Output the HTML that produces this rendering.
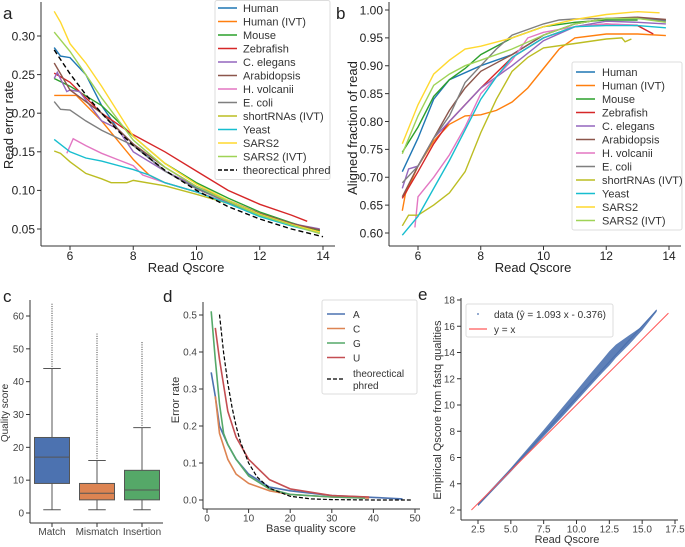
<!DOCTYPE html>
<html><head><meta charset="utf-8"><style>
html,body{margin:0;padding:0;background:#fff;}
svg{display:block;font-family:"Liberation Sans","DejaVu Sans",sans-serif;}
</style></head><body>
<svg id="fig" width="685" height="547" viewBox="0 0 685 547" xmlns="http://www.w3.org/2000/svg">
<g id="root"></g>
</svg>
<script>
// ---------- Panel a data ----------
const aNames = ["Human","Human (IVT)","Mouse","Zebrafish","C. elegans","Arabidopsis","H. volcanii","E. coli","shortRNAs (IVT)","Yeast","SARS2","SARS2 (IVT)"];
const aColors = ["#1f77b4","#ff7f0e","#2ca02c","#d62728","#9467bd","#8c564b","#e377c2","#7f7f7f","#bcbd22","#17becf","#ffd92f","#9fd356"];
const aHumanX=[5.5,5.7,6,6.5,7,7.5,8,9,10,11,12,13,13.9];
const aHumanY=[0.285,0.274,0.272,0.25,0.21,0.18,0.16,0.125,0.103,0.085,0.068,0.056,0.048];
const aHumanIVTX=[5.5,6,6.2,7,8,8.5,9,10,11,12,13,13.9];
const aHumanIVTY=[0.223,0.223,0.223,0.19,0.14,0.12,0.11,0.098,0.084,0.068,0.056,0.047];
const aMouseX=[5.5,6,7,8,9,10,11,12,13,13.9];
const aMouseY=[0.245,0.235,0.21,0.17,0.135,0.11,0.09,0.072,0.058,0.047];
const aZebraX=[5.5,6,7,8,9,10,11,12,13,13.5];
const aZebraY=[0.252,0.24,0.2,0.172,0.15,0.125,0.1,0.082,0.068,0.06];
const aElegX=[5.5,5.6,5.9,6,6.3,7,7.5,8,9,10,11,12,13,13.9];
const aElegY=[0.245,0.253,0.228,0.23,0.228,0.19,0.18,0.15,0.125,0.105,0.087,0.07,0.057,0.05];
const aArabX=[5.5,6,7,8,9,10,11,12,13,13.9];
const aArabY=[0.265,0.23,0.2,0.16,0.13,0.105,0.087,0.07,0.057,0.049];
const aVolcX=[5.9,6.1,6.5,7,7.5,8,8.3,9,10,11,12,13,13.9];
const aVolcY=[0.148,0.167,0.158,0.148,0.14,0.132,0.12,0.11,0.098,0.084,0.068,0.055,0.046];
const aEcoliX=[5.5,5.7,6,6.5,7,8,9,10,11,12,13,13.9];
const aEcoliY=[0.215,0.205,0.204,0.19,0.178,0.158,0.125,0.102,0.085,0.068,0.055,0.046];
const aShortX=[5.5,5.7,6,6.5,7,7.3,7.8,8,9,10,11,12,13,13.9];
const aShortY=[0.151,0.148,0.137,0.122,0.115,0.11,0.11,0.113,0.106,0.095,0.083,0.067,0.055,0.046];
const aYeastX=[5.5,6,6.5,7,8,8.5,9,10,11,12,13,13.9];
const aYeastY=[0.166,0.15,0.142,0.138,0.127,0.12,0.11,0.098,0.083,0.066,0.054,0.045];
const aSarsX=[5.5,5.7,6,6.5,7,8,9,10,11,12,13,13.9];
const aSarsY=[0.332,0.318,0.29,0.265,0.235,0.17,0.135,0.108,0.087,0.069,0.056,0.046];
const aSarsIVTX=[5.5,6,7,8,9,10,11,12,13,13.9];
const aSarsIVTY=[0.305,0.28,0.22,0.165,0.13,0.105,0.086,0.068,0.055,0.044];
const aPhredX=[5.5,6,6.5,7,7.5,8,9,10,11,12,13,14];
const aPhredY=[0.282,0.251,0.224,0.2,0.178,0.158,0.126,0.1,0.079,0.063,0.05,0.04];
const aXTicks=[6,8,10,12,14];
const aYTicks=[0.05,0.10,0.15,0.20,0.25,0.30];

// ---------- Panel b data ----------
const bHumanX=[5.5,6,6.5,7,8,9,10,11,12,13,13.9];
const bHumanY=[0.71,0.77,0.84,0.875,0.9,0.92,0.955,0.975,0.985,0.985,0.982];
const bHumanIVTX=[5.5,5.6,6,6.5,7,7.5,8,8.5,9,9.5,10,10.5,11,12,13,13.9];
const bHumanIVTY=[0.64,0.67,0.72,0.765,0.795,0.81,0.812,0.82,0.835,0.86,0.895,0.93,0.95,0.957,0.957,0.954];
const bMouseX=[5.5,6,6.5,7,7.5,8,9,10,11,12,13];
const bMouseY=[0.745,0.79,0.845,0.875,0.895,0.92,0.95,0.97,0.978,0.982,0.982];
const bZebraX=[5.5,6,6.5,7,8,9,10,11,12,13,13.5];
const bZebraY=[0.662,0.71,0.76,0.8,0.86,0.915,0.95,0.97,0.975,0.972,0.957];
const bElegX=[5.5,5.7,6,6.5,7,7.5,8,9,10,11,12,13,13.9];
const bElegY=[0.68,0.715,0.72,0.77,0.8,0.83,0.86,0.9,0.945,0.97,0.98,0.978,0.975];
const bArabX=[5.5,6,6.5,7,7.5,8,9,10,11,12,13,13.9];
const bArabY=[0.665,0.72,0.77,0.82,0.86,0.89,0.92,0.955,0.975,0.985,0.987,0.983];
const bVolcX=[5.9,6,6.5,7,7.5,8,8.5,9,9.5,10,11,12,13];
const bVolcY=[0.61,0.665,0.7,0.74,0.79,0.85,0.88,0.91,0.95,0.96,0.97,0.975,0.973];
const bEcoliX=[5.5,6,6.5,7,7.5,8,8.5,9,10,10.5,11,12,13,13.9];
const bEcoliY=[0.69,0.72,0.77,0.81,0.87,0.9,0.93,0.955,0.975,0.982,0.984,0.985,0.985,0.98];
const bShortX=[5.5,5.7,6,6.5,7,7.5,8,8.5,9,9.5,10,11,12,12.5,12.6,12.8];
const bShortY=[0.613,0.632,0.632,0.65,0.672,0.71,0.78,0.84,0.89,0.915,0.932,0.94,0.948,0.95,0.943,0.948];
const bYeastX=[5.5,6,6.5,7,7.5,8,8.5,9,10,11,12,13,13.9];
const bYeastY=[0.596,0.63,0.68,0.73,0.785,0.84,0.88,0.915,0.95,0.97,0.972,0.972,0.968];
const bSarsX=[5.5,6,6.5,7,7.5,8,9,10,11,12,13,13.7];
const bSarsY=[0.76,0.83,0.885,0.91,0.93,0.935,0.95,0.97,0.983,0.992,0.997,0.995];
const bSarsIVTX=[5.5,6,6.5,7,7.5,8,9,10,11,12,13,13.9];
const bSarsIVTY=[0.742,0.81,0.865,0.885,0.9,0.91,0.93,0.955,0.975,0.985,0.985,0.978];
const bXTicks=[6,8,10,12,14];
const bYTicks=[0.60,0.65,0.70,0.75,0.80,0.85,0.90,0.95,1.00];

// ---------- Panel c data ----------
const cCategories=["Match","Mismatch","Insertion"];
const cColors=["#4c72b0","#dd8452","#55a868"];
const cQ1=[9,4,4];
const cMedian=[17,6,7];
const cQ3=[23,9,13];
const cWhiskLo=[1,1,1];
const cWhiskHi=[44,16,26];
const cFlierMax=[64,55,52];
const cYTicks=[0,10,20,30,40,50,60];

// ---------- Panel d data ----------
const dNames=["A","C","G","U"];
const dColors=["#4c72b0","#dd8452","#55a868","#c44e52"];
const dAX=[1,2,3,5,7,10,15,20,30,40,47];
const dAY=[0.345,0.28,0.2,0.15,0.11,0.07,0.035,0.025,0.012,0.007,0.003];
const dCX=[2,3,5,7,10,15,20,30,39];
const dCY=[0.28,0.18,0.11,0.07,0.045,0.025,0.015,0.008,0.005];
const dGX=[1,2,3,4,5,7,10,15,20,30,38];
const dGY=[0.51,0.38,0.26,0.18,0.15,0.11,0.065,0.03,0.015,0.008,0.005];
const dUX=[2,3,5,7,10,15,20,30,39];
const dUY=[0.465,0.38,0.24,0.17,0.11,0.055,0.03,0.012,0.008];
const dPhredX=[3,4,5,6,7,8,10,12,15,20,25,30,40,49];
const dPhredY=[0.501,0.398,0.316,0.251,0.2,0.158,0.1,0.063,0.032,0.01,0.003,0.001,0,0];
const dXTicks=[0,10,20,30,40,50];
const dYTicks=[0.0,0.1,0.2,0.3,0.4,0.5];

// ---------- Panel e data ----------
const eBandX=[2.5,5,7.5,9,10,11,12,12.5,13,14,15,16.1];
const eBandLo=[2.3,4.9,7.6,9.2,10.3,11.4,12.5,13.0,13.6,14.6,15.7,17.1];
const eBandHi=[2.5,5.2,8.1,9.9,11.1,12.3,13.5,14.1,14.6,15.3,16.0,17.3];
const eFitIntercept=-0.376;
const eFitSlope=1.093;
const eFitRange=[2.5,16.1];
const eIdentityRange=[2,17];
const eXTicks=[2.5,5.0,7.5,10.0,12.5,15.0,17.5];
const eYTicks=[2,4,6,8,10,12,14,16,18];

// ---------- helpers ----------
const NS="http://www.w3.org/2000/svg";
const root=document.getElementById('root');
function el(tag,attrs,parent){const e=document.createElementNS(NS,tag);for(const k in attrs)e.setAttribute(k,attrs[k]);(parent||root).appendChild(e);return e;}
function lin(d0,d1,r0,r1){return v=>r0+(v-d0)*(r1-r0)/(d1-d0);}
function txt(s,x,y,size,anchor,parent,fill,rot){const t=el('text',{x:x,y:y,'font-size':size,'text-anchor':anchor||'start',fill:fill||'#222'},parent);if(rot)t.setAttribute('transform','rotate(-90 '+x+' '+y+')');t.textContent=s;return t;}
function path(xs,ys,sx,sy){return xs.map((v,i)=>(i?'L':'M')+sx(v).toFixed(1)+' '+sy(ys[i]).toFixed(1)).join(' ');}
function axes(g,x0,x1,y0,y1,sx,sy,xt,yt,fs,fmtX,fmtY,tc){
  el('line',{x1:x0,y1:y1,x2:x1,y2:y1,stroke:'#333','stroke-width':1},g);
  el('line',{x1:x0,y1:y0,x2:x0,y2:y1,stroke:'#333','stroke-width':1},g);
  xt.forEach(v=>{el('line',{x1:sx(v),x2:sx(v),y1:y1,y2:y1+4,stroke:'#333'},g);txt(fmtX(v),sx(v),y1+4+fs*0.85,fs,'middle',g,tc);});
  yt.forEach(v=>{el('line',{x1:x0-4,x2:x0,y1:sy(v),y2:sy(v),stroke:'#333'},g);txt(fmtY(v),x0-6,sy(v)+fs*0.36,fs,'end',g,tc);});
}

// ---------- Panel a ----------
{
const g=el('g',{});


const sx=lin(6,14,70,323), sy=lin(0.30,0.05,36,229);
axes(g,41,335,2,246,sx,sy,aXTicks,aYTicks,12,v=>v,v=>v.toFixed(2),'#222');
txt('Read Qscore',186,272,13,'middle',g);
txt('Read error rate',13,125,13,'middle',g,'#222',true);
txt('a',3,19,17,'start',g);
const xsA=[aHumanX,aHumanIVTX,aMouseX,aZebraX,aElegX,aArabX,aVolcX,aEcoliX,aShortX,aYeastX,aSarsX,aSarsIVTX];
const ysA=[aHumanY,aHumanIVTY,aMouseY,aZebraY,aElegY,aArabY,aVolcY,aEcoliY,aShortY,aYeastY,aSarsY,aSarsIVTY];
xsA.forEach((xs,i)=>{const p=el('path',{d:path(xs,ysA[i],sx,sy),fill:'none',stroke:aColors[i],'stroke-width':1.4},g);

});
const ph=el('path',{d:path(aPhredX,aPhredY,sx,sy),fill:'none',stroke:'#000','stroke-width':1.4,'stroke-dasharray':'5,3'},g);


const lg=el('g',{},g);


el('rect',{x:215,y:0.5,width:115,height:179,fill:'#fff','fill-opacity':0.85,stroke:'#ddd',rx:2},lg);
const labs=aNames.concat(['theorectical phred']);
labs.forEach((n,i)=>{const y=8+i*13.5;
 el('line',{x1:218,x2:237,y1:y,y2:y,stroke:i<12?aColors[i]:'#000','stroke-width':1.6,'stroke-dasharray':i<12?'none':'4,2'},lg);
 txt(n,243,y+4,11,'start',lg,'#333');});
}
// ---------- Panel b ----------
{
const g=el('g',{});


const sx=lin(6,14,418,669), sy=lin(1.0,0.6,10,233);
axes(g,389,681,2,246,sx,sy,bXTicks,bYTicks,12,v=>v,v=>v.toFixed(2),'#222');
txt('Read Qscore',533,272,13,'middle',g);
txt('Aligned fraction of read',357,128,13,'middle',g,'#222',true);
txt('b',336,19,17,'start',g);
const xsB=[bHumanX,bHumanIVTX,bMouseX,bZebraX,bElegX,bArabX,bVolcX,bEcoliX,bShortX,bYeastX,bSarsX,bSarsIVTX];
const ysB=[bHumanY,bHumanIVTY,bMouseY,bZebraY,bElegY,bArabY,bVolcY,bEcoliY,bShortY,bYeastY,bSarsY,bSarsIVTY];
xsB.forEach((xs,i)=>{const p=el('path',{d:path(xs,ysB[i],sx,sy),fill:'none',stroke:aColors[i],'stroke-width':1.4},g);

});
const lg=el('g',{},g);


el('rect',{x:572,y:62,width:110,height:168,fill:'#fff','fill-opacity':0.85,stroke:'#ddd',rx:2},lg);
aNames.forEach((n,i)=>{const y=72+i*13.5;
 el('line',{x1:576,x2:595,y1:y,y2:y,stroke:aColors[i],'stroke-width':1.6},lg);
 txt(n,602,y+4,11,'start',lg,'#333');});
}
// ---------- Panel c ----------
{
const g=el('g',{});


const sy=lin(0,60,513,316);
const cx=[52,97,142];
el('line',{x1:30,y1:300,x2:30,y2:523,stroke:'#333'},g);
el('line',{x1:30,y1:523,x2:163,y2:523,stroke:'#333'},g);
cYTicks.forEach(v=>{el('line',{x1:26,x2:30,y1:sy(v),y2:sy(v),stroke:'#333'},g);txt(String(v),24,sy(v)+3.5,10,'end',g,'#444');});
txt('Quality score',8,413,10,'middle',g,'#333',true);
txt('c',3,302,17,'start',g);
cCategories.forEach((c,i)=>{
 const bx=el('g',{},g);
 
 
 const x=cx[i],w=35;
 el('line',{x1:x,x2:x,y1:sy(cWhiskLo[i]),y2:sy(cQ1[i]),stroke:'#555'},bx);
 el('line',{x1:x,x2:x,y1:sy(cQ3[i]),y2:sy(cWhiskHi[i]),stroke:'#555'},bx);
 el('line',{x1:x-w/4,x2:x+w/4,y1:sy(cWhiskLo[i]),y2:sy(cWhiskLo[i]),stroke:'#555'},bx);
 el('line',{x1:x-w/4,x2:x+w/4,y1:sy(cWhiskHi[i]),y2:sy(cWhiskHi[i]),stroke:'#555'},bx);
 el('rect',{x:x-w/2,y:sy(cQ3[i]),width:w,height:sy(cQ1[i])-sy(cQ3[i]),fill:cColors[i],stroke:'#555'},bx);
 el('line',{x1:x-w/2,x2:x+w/2,y1:sy(cMedian[i]),y2:sy(cMedian[i]),stroke:'#555'},bx);
 for(let v=cWhiskHi[i]+0.7;v<=cFlierMax[i];v+=0.7){el('circle',{cx:x,cy:sy(v),r:0.6,fill:'#555'},bx);}
 el('line',{x1:x,x2:x,y1:523,y2:527,stroke:'#333'},g);
 txt(c,x,535,10,'middle',g,'#444');
});
}
// ---------- Panel d ----------
{
const g=el('g',{});


const sx=lin(0,50,207,415), sy=lin(0,0.5,500,315);
axes(g,203,420,302,509,sx,sy,dXTicks,dYTicks,10,v=>v,v=>v.toFixed(1),'#444');
txt('Base quality score',311,532,11,'middle',g,'#333');
txt('Error rate',179,400,11,'middle',g,'#333',true);
txt('d',163,302,17,'start',g);
const xsD=[dAX,dCX,dGX,dUX], ysD=[dAY,dCY,dGY,dUY];
xsD.forEach((xs,i)=>{const p=el('path',{d:path(xs,ysD[i],sx,sy),fill:'none',stroke:dColors[i],'stroke-width':1.6,'stroke-linejoin':'round'},g);

});
const ph=el('path',{d:path(dPhredX,dPhredY,sx,sy),fill:'none',stroke:'#000','stroke-width':1.2,'stroke-dasharray':'4,2'},g);


const lg=el('g',{},g);


el('rect',{x:322,y:300,width:95,height:94,fill:'#fff',stroke:'#ddd',rx:2},lg);
dNames.forEach((n,i)=>{const y=314+i*14.5;
 el('line',{x1:327,x2:345,y1:y,y2:y,stroke:dColors[i],'stroke-width':1.4},lg);
 txt(n,353,y+4,10,'start',lg,'#333');});
el('line',{x1:327,x2:345,y1:379,y2:379,stroke:'#000','stroke-width':1.2,'stroke-dasharray':'4,2'},lg);
txt('theorectical',353,377,10,'start',lg,'#333');
txt('phred',353,389,10,'start',lg,'#333');
}
// ---------- Panel e ----------
{
const g=el('g',{});


const sx=lin(2.5,17.5,478,675), sy=lin(2,18,510,300);
axes(g,461,678,298,520,sx,sy,eXTicks,eYTicks,10,v=>v.toFixed(1),v=>v,'#444');
txt('Read Qscore',567,543,11,'middle',g,'#333');
txt('Empirical Qscore from fastq qualities',441,410,11,'middle',g,'#333',true);
txt('e',418,300,17,'start',g);
const band=eBandX.map((v,i)=>sx(v).toFixed(1)+','+sy(eBandHi[i]).toFixed(1)).concat(eBandX.slice().reverse().map((v,j)=>{const i=eBandX.length-1-j;return sx(v).toFixed(1)+','+sy(eBandLo[i]).toFixed(1);})).join(' ');
const sc=el('polygon',{points:band,fill:'#4c72b0','fill-opacity':0.9},g);


const fl=el('line',{x1:sx(eFitRange[0]),y1:sy(eFitSlope*eFitRange[0]+eFitIntercept),x2:sx(eFitRange[1]),y2:sy(eFitSlope*eFitRange[1]+eFitIntercept),stroke:'#4c72b0','stroke-width':1.2},g);


const il=el('line',{x1:sx(eIdentityRange[0]),y1:sy(eIdentityRange[0]),x2:sx(eIdentityRange[1]),y2:sy(eIdentityRange[1]),stroke:'#ff5555','stroke-width':1},g);


const lg=el('g',{},g);


el('rect',{x:466,y:304,width:147,height:33,fill:'#fff',stroke:'#ddd',rx:2},lg);
el('circle',{cx:478,cy:314,r:0.9,fill:'#4c72b0'},lg);
txt('data (ŷ = 1.093 x - 0.376)',494,318,10,'start',lg,'#333');
el('line',{x1:469,x2:487,y1:329,y2:329,stroke:'#ff7777','stroke-width':1.4},lg);
txt('y = x',494,333,10,'start',lg,'#333');
}
</script>
</body></html>
